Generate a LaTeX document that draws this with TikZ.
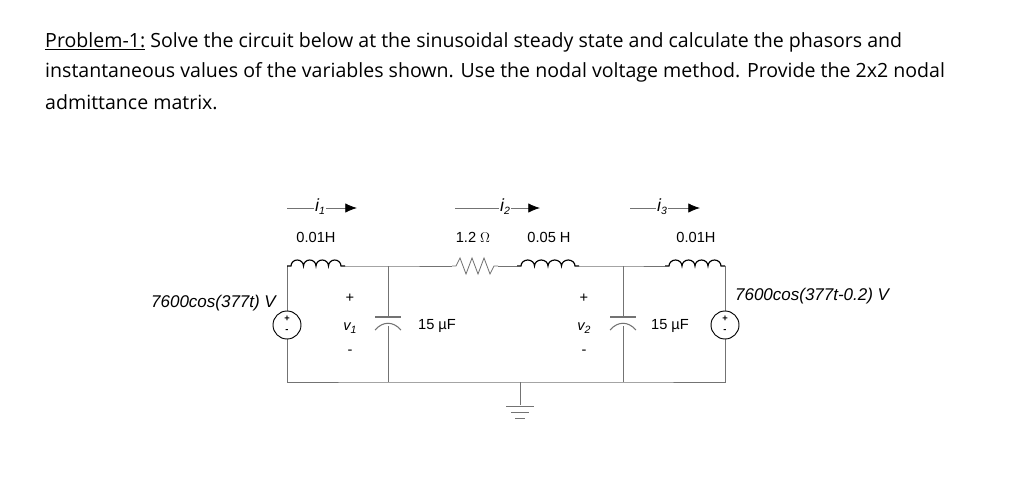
\documentclass[tikz,border=0pt]{standalone}
\usepackage{fontspec}
\usetikzlibrary{arrows.meta}
\setmainfont{Liberation Sans}
\newfontfamily\titlefont{Open Sans}
\newcommand{\sbs}[1]{\raisebox{-0.35ex}{\fontsize{9}{10}\selectfont #1}}
\begin{document}
\begin{tikzpicture}[x=0.03cm,y=-0.03cm,
  wire/.style={draw=black!55,line width=0.7pt},
  comp/.style={draw=black,line width=1pt},
  lbl/.style={font=\fontsize{12.5}{14}\selectfont},
  ttl/.style={font=\titlefont\fontsize{16.7}{19}\selectfont,anchor=west,inner sep=0}]
\useasboundingbox (0,0) rectangle (1024,477);
% title
\node[ttl] (t1) at (45,42) {\underline{Problem-1:} Solve the circuit below at the sinusoidal steady state and calculate the phasors and};
\node[ttl] (t2) at (45,72) {instantaneous values of the variables shown. Use the nodal voltage method. Provide the 2x2 nodal};
\node[ttl] (t3) at (45,102) {admittance matrix.};
% coordinates
\coordinate (A) at (287,266); \coordinate (N1) at (388,266); \coordinate (N2) at (623,266); \coordinate (B) at (725,266);
\coordinate (Ab) at (287,382); \coordinate (N1b) at (388,382); \coordinate (G) at (520,382); \coordinate (N2b) at (623,382); \coordinate (Bb) at (725,382);
% wires
\draw[wire] (345,266) -- (N1) -- (452,266);
\draw[wire] (498,266) -- (517,266);
\draw[wire] (579,266) -- (N2) -- (665,266);
\draw[wire] (A) -- (287,311); \draw[wire] (287,339) -- (Ab) -- (N1b) -- (G) -- (N2b) -- (Bb) -- (725,339);
\draw[wire] (B) -- (725,311);
\draw[wire] (N1) -- (388,317); \draw[wire] (388,326) -- (N1b);
\draw[wire] (N2) -- (623,317); \draw[wire] (623,326) -- (N2b);
% inductors
\foreach \s/\e in {287/345,517/579,665/725}{
  \pgfmathsetmacro{\w}{(\e-\s-8)/4}
  \draw[comp] (\s,266) -- ++(4,0) arc[start angle=180,end angle=360,x radius=\w/2,y radius=6]
   arc[start angle=180,end angle=360,x radius=\w/2,y radius=6]
   arc[start angle=180,end angle=360,x radius=\w/2,y radius=6]
   arc[start angle=180,end angle=360,x radius=\w/2,y radius=6] -- (\e,266);
}
% resistor
\draw[wire] (452,266) -- (456,266) -- (460,258) -- (466,274) -- (472,258) -- (478,274) -- (484,258) -- (490,274) -- (494,266) -- (498,266);
% capacitors
\foreach \x in {388,623}{
  \draw[wire,line width=0.9pt] (\x-13,317) -- (\x+13,317);
  \draw[wire,line width=0.9pt] (\x-13,330) .. controls (\x-5,321) and (\x+5,321) .. (\x+13,330);
}
% ground
\draw[wire] (G) -- (520,405);
\draw[wire] (506,406) -- (534,406); \draw[wire] (511,412) -- (529,412); \draw[wire] (515,418) -- (525,418);
% sources
\foreach \x/\n in {287/sL,725/sR}{
  \node[circle,draw,line width=0.8pt,minimum size=0.84cm,inner sep=0] (\n) at (\x,325) {};
  \node[font=\fontsize{8}{9}\selectfont\bfseries,inner sep=0] at (\x,319) {+};
  \node[font=\fontsize{8}{9}\selectfont\bfseries,inner sep=0] at (\x,331) {-};
}
\node[anchor=east,font=\itshape\fontsize{14.5}{16}\selectfont] (vl) at (280,303) {7600cos(377t) V};
\node[anchor=west,font=\itshape\fontsize{14.5}{16}\selectfont] (vr) at (731,296) {7600cos(377t-0.2) V};
% current arrows
\foreach \a/\b/\m/\t in {287/357/320/1,455/540/505/2,630/700/662/3}{
  \draw[wire,-{Latex[length=10pt,width=8pt,color=black]}] (\a,208) -- (\b,208);
  \node[fill=white,inner sep=1pt,font=\itshape\fontsize{15}{16}\selectfont] at (\m,207) {i\sbs{\t}};
}
% labels
\node[lbl] (l1) at (316,237) {0.01H};
\node[lbl] (l2) at (473,237) {1.2 $\Omega$};
\node[lbl] (l3) at (549,237) {0.05 H};
\node[lbl] (l4) at (696,237) {0.01H};
\node[lbl] (c1) at (437,326) {15 µF};
\node[lbl] (c2) at (670,326) {15 µF};
\foreach \x/\t in {350/1,584/2}{
  \node[lbl] at (\x,298) {+};
  \node[lbl,font=\itshape\fontsize{12.5}{14}\selectfont] at (\x,328) {v\sbs{\t}};
  \node[lbl] at (\x,352) {-};
}
\end{tikzpicture}
\end{document}
